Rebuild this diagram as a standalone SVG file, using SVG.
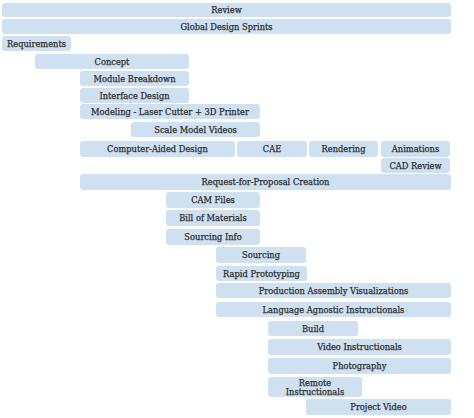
<svg xmlns="http://www.w3.org/2000/svg" width="474" height="418" viewBox="0 0 474 418">
<style>
.b{fill:#cfe0f1;}
.t{font-family:"DejaVu Serif","Liberation Serif",serif;font-size:8.3px;fill:#2e2e2e;stroke:#2e2e2e;stroke-width:0.25px;text-anchor:middle;dominant-baseline:central;}
</style>
<rect width="474" height="418" fill="#fff"/>
<g id="connectors"></g>
<g id="review"><rect class="b" x="2" y="3" width="449" height="14" rx="3"/><text class="t" x="226.5" y="10">Review</text></g>
<g id="global-design-sprints"><rect class="b" x="2" y="19" width="449" height="15" rx="3"/><text class="t" x="226.5" y="26.5">Global Design Sprints</text></g>
<g id="requirements"><rect class="b" x="2" y="36" width="69" height="15" rx="3"/><text class="t" x="36.5" y="43.5">Requirements</text></g>
<g id="concept"><rect class="b" x="35" y="54" width="154" height="15" rx="3"/><text class="t" x="112" y="61.5">Concept</text></g>
<g id="module-breakdown"><rect class="b" x="80" y="71" width="109" height="15" rx="3"/><text class="t" x="134.5" y="78.5">Module Breakdown</text></g>
<g id="interface-design"><rect class="b" x="80" y="88" width="109" height="15" rx="3"/><text class="t" x="134.5" y="95.5">Interface Design</text></g>
<g id="modeling"><rect class="b" x="80" y="104" width="180" height="15" rx="3"/><text class="t" x="170" y="111.5">Modeling - Laser Cutter + 3D Printer</text></g>
<g id="scale-model-videos"><rect class="b" x="131" y="122" width="129" height="15" rx="3"/><text class="t" x="195.5" y="129.5">Scale Model Videos</text></g>
<g id="computer-aided-design"><rect class="b" x="80" y="141" width="155" height="16" rx="3"/><text class="t" x="157.5" y="149">Computer-Aided Design</text></g>
<g id="cae"><rect class="b" x="237" y="141" width="70" height="16" rx="3"/><text class="t" x="272" y="149">CAE</text></g>
<g id="rendering"><rect class="b" x="309" y="141" width="69" height="16" rx="3"/><text class="t" x="343.5" y="149">Rendering</text></g>
<g id="animations"><rect class="b" x="381" y="141" width="69" height="16" rx="3"/><text class="t" x="415.5" y="149">Animations</text></g>
<g id="cad-review"><rect class="b" x="381" y="158" width="69" height="15" rx="3"/><text class="t" x="415.5" y="165.5">CAD Review</text></g>
<g id="rfp-creation"><rect class="b" x="80" y="174" width="371" height="16" rx="3"/><text class="t" x="265.5" y="182">Request-for-Proposal Creation</text></g>
<g id="cam-files"><rect class="b" x="166" y="192" width="94" height="16" rx="3"/><text class="t" x="213" y="200">CAM Files</text></g>
<g id="bill-of-materials"><rect class="b" x="166" y="210" width="94" height="16" rx="3"/><text class="t" x="213" y="218">Bill of Materials</text></g>
<g id="sourcing-info"><rect class="b" x="166" y="229" width="94" height="16" rx="3"/><text class="t" x="213" y="237">Sourcing Info</text></g>
<g id="sourcing"><rect class="b" x="216" y="247" width="90" height="16" rx="3"/><text class="t" x="261" y="255">Sourcing</text></g>
<g id="rapid-prototyping"><rect class="b" x="216" y="266" width="91" height="15" rx="3"/><text class="t" x="261.5" y="273.5">Rapid Prototyping</text></g>
<g id="production-assembly-visualizations"><rect class="b" x="216" y="283" width="235" height="15" rx="3"/><text class="t" x="333.5" y="290.5">Production Assembly Visualizations</text></g>
<g id="language-agnostic-instructionals"><rect class="b" x="216" y="302" width="235" height="15" rx="3"/><text class="t" x="333.5" y="309.5">Language Agnostic Instructionals</text></g>
<g id="build"><rect class="b" x="268" y="321" width="90" height="15" rx="3"/><text class="t" x="313" y="328.5">Build</text></g>
<g id="video-instructionals"><rect class="b" x="268" y="339" width="183" height="16" rx="3"/><text class="t" x="359.5" y="347">Video Instructionals</text></g>
<g id="photography"><rect class="b" x="268" y="358" width="183" height="16" rx="3"/><text class="t" x="359.5" y="366">Photography</text></g>
<g id="remote-instructionals"><rect class="b" x="268" y="377" width="94" height="20" rx="3"/><text class="t" x="315" y="382.5">Remote</text><text class="t" x="315" y="391.5">Instructionals</text></g>
<g id="project-video"><rect class="b" x="306" y="399" width="145" height="16" rx="3"/><text class="t" x="378.5" y="407">Project Video</text></g>
</svg>
